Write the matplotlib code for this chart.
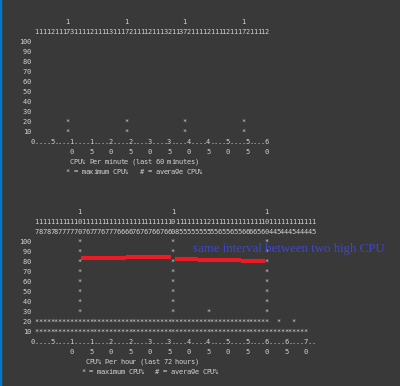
import matplotlib
matplotlib.use("Agg")
import matplotlib.pyplot as plt
from matplotlib.patches import Rectangle

# max CPU% per minute (last 60 minutes), oldest column on the left as printed
minute_max = [1, 1, 1, 1, 2, 1, 1, 1, 17, 3, 1, 1, 1, 1, 2,
              1, 1, 1, 1, 3, 1, 1, 1, 17, 2, 1, 1, 1, 1, 2,
              1, 1, 1, 3, 2, 1, 1, 3, 17, 2, 1, 1, 1, 1, 2,
              1, 1, 1, 1, 2, 1, 1, 1, 17, 2, 1, 1, 1, 1, 2]

# max CPU% per hour (last 72 hours)
hour_max = [17, 18, 17, 18, 17, 18, 17, 17, 17, 17, 17, 100,
            17, 16, 17, 17, 17, 16, 17, 17, 17, 16, 16, 16, 16, 17, 16, 17, 16, 17, 16, 16, 17, 16, 16, 100,
            18, 15, 15, 15, 15, 15, 15, 15, 25, 15, 15,
            16, 15, 15, 16, 15, 15, 16, 16, 16, 16, 15, 16, 100,
            14, 14, 15, 14, 14, 14, 15, 14, 14, 14, 14, 15]
hour_unstarred = [70, 71]  # these columns have no '*' in the capture

y_ticks = [100, 90, 80, 70, 60, 50, 40, 30, 20, 10]
legend = "* = maximum CPU%   # = average CPU%"

# hand drawn marker + note, in (character column, text line) units
red_strokes = [((15.9, 27.4), (23.68, 23.68)),
               ((27.4, 38.9), (23.55, 23.55)),
               ((40.0, 45.9), (23.75, 23.75)),
               ((45.9, 56.8), (23.88, 23.88)),
               ((56.8, 63.1), (23.98, 23.98))]
note = "same interval between two high CPU"

BG = "#393939"
FG = "#d2d2d2"
CW = 3.9    # px per character
LH = 10.0   # px per line
X0, Y0 = 19.0, 21.5

fig = plt.figure(figsize=(4, 3.86), dpi=100, facecolor=BG)
ax = fig.add_axes([0, 0, 1, 1])
ax.set_facecolor(BG)
ax.set_xlim(-X0 / CW, (400 - X0) / CW)
ax.set_ylim((386 - Y0) / LH, -Y0 / LH)
ax.axis("off")
fig.patches.append(Rectangle((0, 0), 1.2 / 400, 1, transform=fig.transFigure,
                             color="#007acc", zorder=5))


def put(col, line, s):
    for i, ch in enumerate(s):
        if ch != " ":
            ax.text(col + i + 0.5, line, ch, ha="center", va="center",
                    family="DejaVu Sans Mono", fontsize=5.0, color=FG)


def axis_rows(n):
    top = ""
    low = ""
    for i in range(n + 1):
        if i % 5 == 0:
            top += str(i // 10) if i >= 10 else str(i)
            low += str(i % 10) if i >= 10 else " "
        else:
            top += "."
            low += " "
    return top, low


def draw_history(values, levels, top, title, title_col, legend_col):
    ndig = len(str(max(values)))
    for k in range(ndig):
        p = 10 ** (ndig - 1 - k)
        for c, v in enumerate(values):
            if v >= p or p == 1:
                put(4 + c, top + k, str(v // p % 10))
    first = top + ndig
    for j, t in enumerate(y_ticks):
        put(0, first + j, f"{t:>3}")
        for c, lv in enumerate(levels):
            if lv >= t:
                put(4 + c, first + j, "*")
    a, b = axis_rows(len(values))
    put(3, first + 10, a)
    put(3, first + 11, b)
    put(title_col, first + 12, title)
    put(legend_col, first + 13, legend)


minute_levels = [(v + 5) // 10 * 10 for v in minute_max]
hour_levels = [(v + 5) // 10 * 10 for v in hour_max]
for c in hour_unstarred:
    hour_levels[c] = 0

draw_history(minute_max, minute_levels, 0, "CPU% per minute (last 60 minutes)", 13, 12)
draw_history(hour_max, hour_levels, 19, "CPU% per hour (last 72 hours)", 17, 16)

for xs, ys in red_strokes:
    ax.plot(xs, ys, color="#ed1c24", linewidth=3.0, solid_capstyle="butt")

ax.text(44.5, 22.75, note, ha="left", va="center", family="Liberation Serif",
        fontsize=9.3, color="#3f48cc")

fig.savefig("out.png", dpi=100, facecolor=BG)
